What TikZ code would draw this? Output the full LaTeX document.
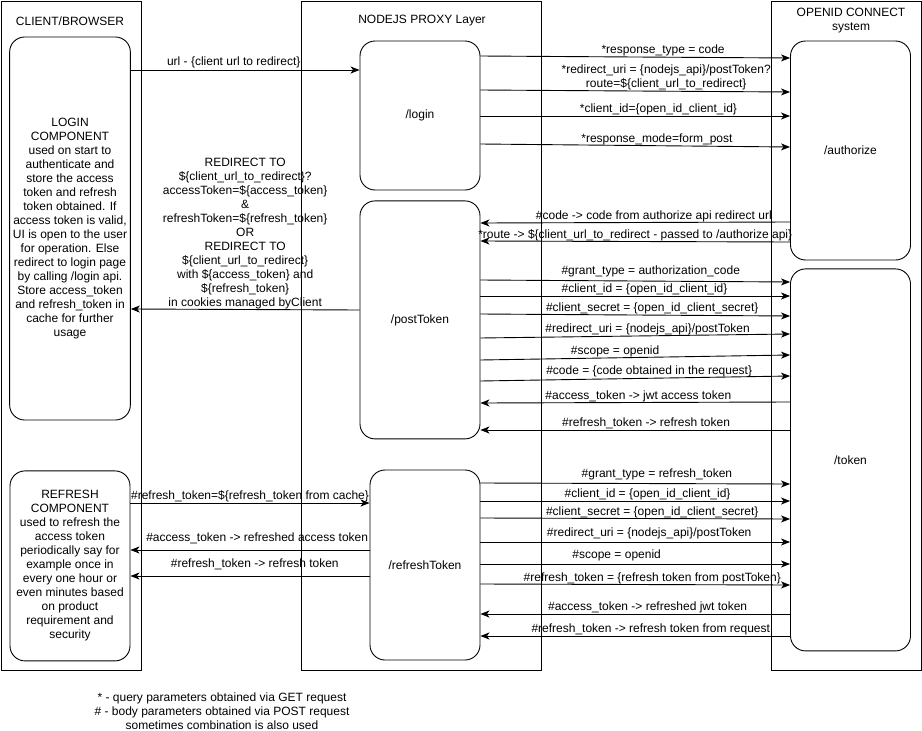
\documentclass[tikz,border=0pt]{standalone}
\usepackage{fontspec}
\setmainfont{Liberation Sans}
\usetikzlibrary{arrows.meta, positioning}

\tikzset{
	panel/.style={draw, anchor=north west, minimum height=669.5pt},
	endpoint/.style={draw, rounded corners=15pt, minimum width=120pt, align=center},
	msg/.style={-{Stealth[length=9pt, width=7pt, inset=2.5pt]}},
	lbl/.style={above, inner sep=0.5pt, align=center},
}

\begin{document}
\begin{tikzpicture}[x=1pt, y=-1pt, font=\fontsize{12}{14}\selectfont, line width=0.9pt]
	\useasboundingbox (0,0) rectangle (922,731);
	
	% columns
	\node[panel, minimum width=140pt] (client) at (0.5,0.5) {};
	\node[panel, minimum width=240pt] (proxy) at (300.5,0.5) {};
	\node[panel, minimum width=150.5pt] (openid) at (770.5,0.5) {};
	\node (clientT) at (70,21) {CLIENT/BROWSER};
	\node (proxyT) at (422,21) {NODEJS PROXY Layer};
	\node[align=center] (openidT) at (851,21) {OPENID CONNECT\\system};
	
	% client
	\node[endpoint, minimum height=383pt] (loginC) at (70,228.5) {LOGIN\\COMPONENT\\used on start to\\authenticate and\\store the access\\token and refresh\\token obtained. If\\access token is valid,\\UI is open to the user\\for operation. Else\\redirect to login page\\by calling /login api.\\Store access\_token\\and refresh\_token in\\cache for further\\usage};
	\node[endpoint, minimum height=190pt, below=50pt of loginC] (refreshC) {REFRESH\\COMPONENT\\used to refresh the\\access token\\periodically say for\\example once in\\every one hour or\\even minutes based\\on product\\requirement and\\security};
	
	% proxy
	\node[endpoint, minimum height=149pt] (login) at (420,115.5) {/login};
	\node[endpoint, minimum height=238pt, below=10pt of login] (postToken) {/postToken};
	\node[endpoint, minimum width=110pt, minimum height=190pt] (refreshToken) at (425,565) {/refreshToken};
	
	% openid
	\node[endpoint, minimum height=219pt] (authorize) at (850.5,150.5) {/authorize};
	\node[endpoint, minimum height=382pt, below=8pt of authorize] (token) {/token};
	
	% login flow
	\draw[msg] (loginC.east |- 0,70) -- node[lbl, pos=0.45, yshift=1pt] {url - \{client url to redirect\}} (login.west |- 0,70);
	\draw[msg] (login.east |- 0,56) -- node[lbl, pos=0.59] {*response\_type = code} (authorize.west |- 0,58);
	\draw[msg] (login.east |- 0,90) -- node[lbl, pos=0.6] {*redirect\_uri = \{nodejs\_api\}/postToken?\\route=\$\{client\_url\_to\_redirect\}} (authorize.west |- 0,92);
	\draw[msg] (login.east |- 0,116) -- node[lbl, pos=0.575] {*client\_id=\{open\_id\_client\_id\}} (authorize.west |- 0,116);
	\draw[msg] (login.east |- 0,144) -- node[lbl, pos=0.57] {*response\_mode=form\_post} (authorize.west |- 0,147);
	\draw[msg] (authorize.west |- 0,222) -- node[lbl, pos=0.44] {\#code -> code from authorize api redirect url} (postToken.east |- 0,223);
	\draw[msg] (authorize.west |- 0,242) -- node[lbl, pos=0.5] {*route -> \$\{client\_url\_to\_redirect - passed to /authorize api\}} (postToken.east |- 0,241);
	
	% postToken
	\draw[msg] (postToken.east |- 0,280) -- node[lbl, pos=0.55, yshift=3pt] {\#grant\_type = authorization\_code} (token.west |- 0,282);
	\draw[msg] (postToken.east |- 0,296) -- node[lbl, pos=0.53] {\#client\_id = \{open\_id\_client\_id\}} (token.west |- 0,296);
	\draw[msg] (postToken.east |- 0,314) -- node[lbl, pos=0.555] {\#client\_secret = \{open\_id\_client\_secret\}} (token.west |- 0,316);
	\draw[msg] (postToken.east |- 0,338) -- node[lbl, pos=0.54] {\#redirect\_uri = \{nodejs\_api\}/postToken} (token.west |- 0,334);
	\draw[msg] (postToken.east |- 0,360) -- node[lbl, pos=0.435] {\#scope = openid} (token.west |- 0,355);
	\draw[msg] (postToken.east |- 0,381) -- node[lbl, pos=0.545] {\#code = \{code obtained in the request\}} (token.west |- 0,376);
	\draw[msg] (token.west |- 0,402) -- node[lbl, pos=0.49] {\#access\_token -> jwt access token} (postToken.east |- 0,403);
	\draw[msg] (token.west |- 0,430) -- node[lbl, pos=0.465] {\#refresh\_token -> refresh token} (postToken.east |- 0,430);
	\draw[msg] (postToken.west |- 0,310) -- node[lbl, pos=0.5] {REDIRECT TO\\\$\{client\_url\_to\_redirect\}?\\accessToken=\$\{access\_token\}\\\&\\refreshToken=\$\{refresh\_token\}\\OR\\REDIRECT TO\\\$\{client\_url\_to\_redirect\}\\with \$\{access\_token\} and\\\$\{refresh\_token\}\\in cookies managed byClient} (loginC.east |- 0,309);
	
	% refresh flow
	\draw[msg] (refreshC.east |- 0,503) -- node[lbl, pos=0.5] {\#refresh\_token=\$\{refresh\_token from cache\}} (refreshToken.west |- 0,503);
	\draw[msg] (refreshToken.west |- 0,550) -- node[lbl, pos=0.47, yshift=5pt] {\#access\_token -> refreshed access token} (refreshC.east |- 0,550);
	\draw[msg] (refreshToken.west |- 0,576) -- node[lbl, pos=0.48, yshift=5pt] {\#refresh\_token -> refresh token} (refreshC.east |- 0,576);
	\draw[msg] (refreshToken.east |- 0,483) -- node[lbl, pos=0.57, yshift=3pt] {\#grant\_type = refresh\_token} (token.west |- 0,484);
	\draw[msg] (refreshToken.east |- 0,501) -- node[lbl, pos=0.54] {\#client\_id = \{open\_id\_client\_id\}} (token.west |- 0,501);
	\draw[msg] (refreshToken.east |- 0,518) -- node[lbl, pos=0.555] {\#client\_secret = \{open\_id\_client\_secret\}} (token.west |- 0,519);
	\draw[msg] (refreshToken.east |- 0,542) -- node[lbl, pos=0.545, yshift=2pt] {\#redirect\_uri = \{nodejs\_api\}/postToken} (token.west |- 0,542);
	\draw[msg] (refreshToken.east |- 0,564) -- node[lbl, pos=0.44, yshift=2pt] {\#scope = openid} (token.west |- 0,564);
	\draw[msg] (refreshToken.east |- 0,584) -- node[lbl, pos=0.555] {\#refresh\_token = \{refresh token from postToken\}} (token.west |- 0,585);
	\draw[msg] (token.west |- 0,614) -- node[lbl, pos=0.46] {\#access\_token -> refreshed jwt token} (refreshToken.east |- 0,614);
	\draw[msg] (token.west |- 0,636) -- node[lbl, pos=0.45] {\#refresh\_token -> refresh token from request} (refreshToken.east |- 0,636);
	
	% legend
	\node[align=center] (legend) at (222,711) {* - query parameters obtained via GET request\\\# - body parameters obtained via POST request\\sometimes combination is also used};
	
\end{tikzpicture}
\end{document}
